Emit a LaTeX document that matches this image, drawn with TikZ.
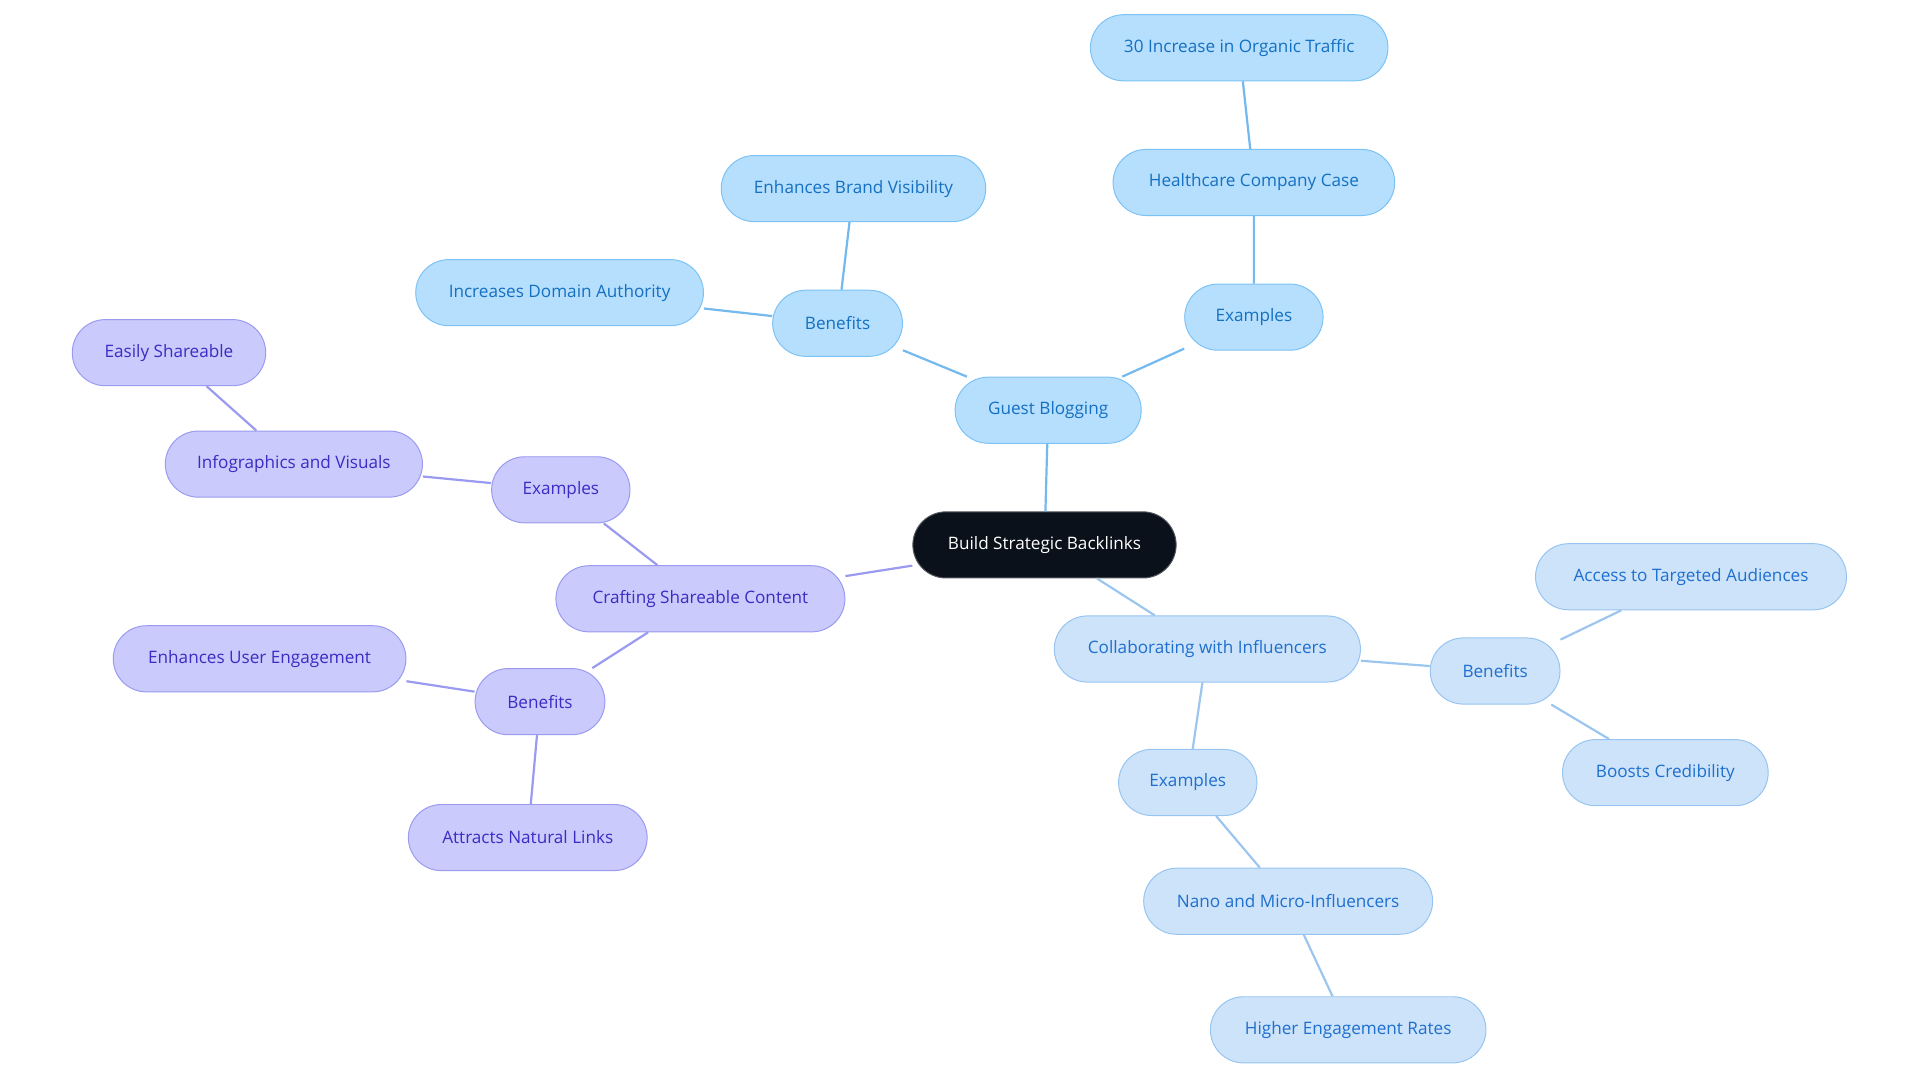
\documentclass[tikz,border=0pt]{standalone}
\usepackage{fontspec}
\setmainfont{Open Sans}
\begin{document}
\begin{tikzpicture}[x=1pt,y=-1pt,
 base/.style={rounded corners=27pt,minimum height=54pt,inner xsep=4pt,font=\fontsize{14}{17}\selectfont,line width=0.8pt},
 bl/.style={base,fill=b1f,draw=b1d,text=b1t},
 lb/.style={base,fill=b2f,draw=b2d,text=b2t},
 pu/.style={base,fill=b3f,draw=b3d,text=b3t},
 e1/.style={draw=b1e,line width=1.8pt},
 e2/.style={draw=b2e,line width=1.8pt},
 e3/.style={draw=b3e,line width=1.8pt}]
\definecolor{b1f}{HTML}{B5DFFD}\definecolor{b1d}{HTML}{7CC2F5}\definecolor{b1t}{HTML}{1570C2}\definecolor{b1e}{HTML}{74B9EE}
\definecolor{b2f}{HTML}{CCE3FA}\definecolor{b2d}{HTML}{97C4F0}\definecolor{b2t}{HTML}{1F6FCF}\definecolor{b2e}{HTML}{9CC6F0}
\definecolor{b3f}{HTML}{CACAFC}\definecolor{b3d}{HTML}{9A9AF0}\definecolor{b3t}{HTML}{3B2CC4}\definecolor{b3e}{HTML}{9A9AF0}
\definecolor{rootf}{HTML}{0B111B}
\useasboundingbox (0,0) rectangle (1568,884);
\node[base,fill=rootf,draw=rootf!70!white,text=white,minimum width=215pt] (root) at (853,445) {Build Strategic Backlinks};
\node[bl,minimum width=152pt] (gb) at (856,335) {Guest Blogging};
\node[bl,minimum width=106pt] (gbb) at (684,264) {Benefits};
\node[bl,minimum width=216pt] (ebv) at (697,154) {Enhances Brand Visibility};
\node[bl,minimum width=235pt] (ida) at (457,239) {Increases Domain Authority};
\node[bl,minimum width=113pt] (gbe) at (1024,259) {Examples};
\node[bl,minimum width=230pt] (hcc) at (1024,149) {Healthcare Company Case};
\node[bl,minimum width=243pt] (oi) at (1012,39) {30 Increase in Organic Traffic};
\node[lb,minimum width=250pt] (cw) at (986,530) {Collaborating with Influencers};
\node[lb,minimum width=106pt] (cwb) at (1221,548) {Benefits};
\node[lb,minimum width=254pt] (ata) at (1381,471) {Access to Targeted Audiences};
\node[lb,minimum width=168pt] (bc) at (1360,631) {Boosts Credibility};
\node[lb,minimum width=113pt] (cwe) at (970,639) {Examples};
\node[lb,minimum width=236pt] (nmi) at (1052,736) {Nano and Micro-Influencers};
\node[lb,minimum width=225pt] (her) at (1101,841) {Higher Engagement Rates};
\node[pu,minimum width=236pt] (csc) at (572,489) {Crafting Shareable Content};
\node[pu,minimum width=113pt] (cse) at (458,400) {Examples};
\node[pu,minimum width=210pt] (iv) at (240,379) {Infographics and Visuals};
\node[pu,minimum width=158pt] (es) at (138,288) {Easily Shareable};
\node[pu,minimum width=106pt] (csb) at (441,573) {Benefits};
\node[pu,minimum width=239pt] (eue) at (212,538) {Enhances User Engagement};
\node[pu,minimum width=195pt] (anl) at (431,684) {Attracts Natural Links};
\begin{scope}[on background layer/.style={}]
\end{scope}
\begin{pgfonlayer}{main}\end{pgfonlayer}
\path[e1] (root) -- (gb) (gb) -- (gbb) (gbb) -- (ebv) (gbb) -- (ida) (gb) -- (gbe) (gbe) -- (hcc) (hcc) -- (oi);
\path[e2] (root) -- (cw) (cw) -- (cwb) (cwb) -- (ata) (cwb) -- (bc) (cw) -- (cwe) (cwe) -- (nmi) (nmi) -- (her);
\path[e3] (root) -- (csc) (csc) -- (cse) (cse) -- (iv) (iv) -- (es) (csc) -- (csb) (csb) -- (eue) (csb) -- (anl);
\end{tikzpicture}
\end{document}
